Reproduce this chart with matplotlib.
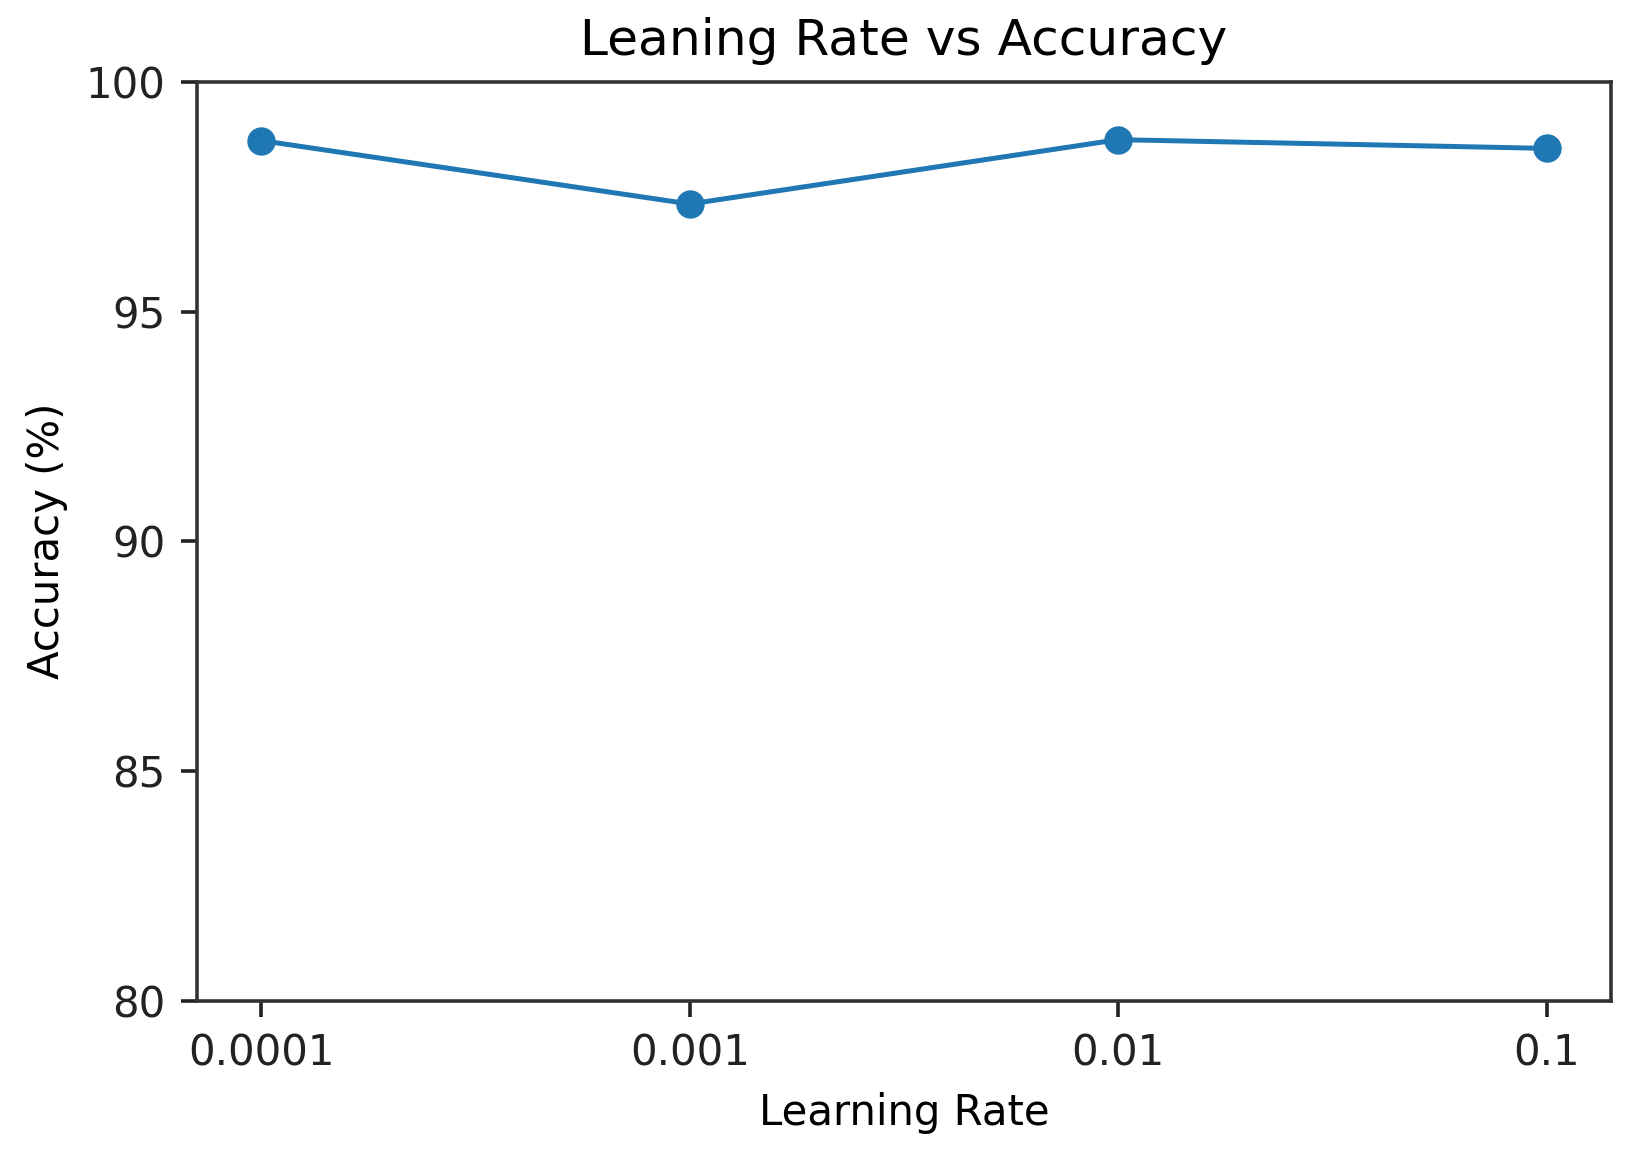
import matplotlib
matplotlib.use("Agg")
import matplotlib.pyplot as plt

learning_rates = ["0.0001", "0.001", "0.01", "0.1"]
accuracy = [98.72, 97.34, 98.74, 98.55]
y_ticks = [80, 85, 90, 95, 100]

S = 3.24  # scale factor
F = 0.93 * S  # font scale
plt.rcParams['font.family'] = ['DejaVu Sans']

fig = plt.figure(figsize=(16.28, 11.5), dpi=100)
ax = fig.add_axes([0.121, 0.1298, 0.8686, 0.7991])

ax.plot(learning_rates, accuracy, marker='o', color='#1f77b4',
        linewidth=3.6, markersize=6 * S)

ax.set_ylim(80, 100)
ax.set_yticks(y_ticks)
ax.set_title("Leaning Rate vs Accuracy", fontsize=12 * F, pad=6 * S)
ax.set_xlabel("Learning Rate", fontsize=10 * F, labelpad=4 * S)
ax.set_ylabel("Accuracy (%)", fontsize=10 * F, labelpad=4 * S)
ax.tick_params(axis='both', labelsize=10 * F, length=3.5 * S,
               width=0.8 * S, pad=3.5 * S, colors='#222222')
for sp in ax.spines.values():
    sp.set_linewidth(0.8 * S)
    sp.set_color('#333333')

fig.savefig("out.png", dpi=100)
